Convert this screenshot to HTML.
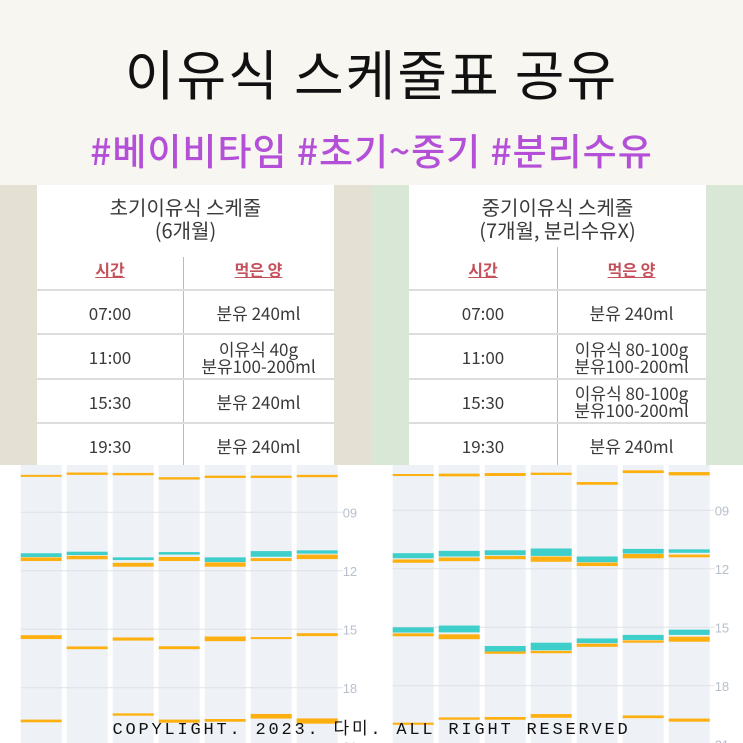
<!DOCTYPE html>
<html><head><meta charset="utf-8">
<style>
*{margin:0;padding:0;box-sizing:border-box}
body{width:743px;height:743px;overflow:hidden;position:relative;background:#fff;font-family:"Liberation Sans","Noto Sans CJK KR",sans-serif}
.abs{position:absolute}
#top{left:0;top:0;width:743px;height:185px;background:#f8f6f0}
#title{left:0;top:32px;width:743px;text-align:center;font-size:54px;color:#111;font-family:"Noto Sans CJK KR",sans-serif;letter-spacing:2px}
#tags{left:0;top:122px;width:743px;text-align:center;font-size:37px;color:#b450d8;font-family:"Noto Sans CJK KR",sans-serif;font-weight:500;letter-spacing:1px}
.panel{top:185px;height:280px;background:#fff;width:297px;color:#3a3a3a;font-family:"Noto Sans CJK KR",sans-serif}
.ptitle{position:absolute;left:0;width:100%;text-align:center;font-size:20px;line-height:23px;top:10px}
.hdr{position:absolute;top:72px;font-size:16px;font-weight:bold;color:#c4505a;text-decoration:underline;text-align:center}
.vline{position:absolute;width:1px;background:#bbb;top:72px;bottom:0}
.hline{position:absolute;left:0;width:100%;height:2px;background:#ddd}
.cell{position:absolute;font-size:17px;text-align:center;line-height:17px;display:flex;align-items:center;justify-content:center}
#copy{left:0;top:714px;width:743px;text-align:center;font-family:"Liberation Mono",monospace;font-size:17px;letter-spacing:2.8px;color:#111}
</style></head><body>
<div id="top" class="abs"></div>
<div id="title" class="abs">이유식 스케줄표 공유</div>
<div id="tags" class="abs">#베이비타임 #초기~중기 #분리수유</div>
<div class="abs" style="left:0;top:185px;width:372px;height:280px;background:#e4e1d4"></div>
<div class="abs" style="left:372px;top:185px;width:371px;height:280px;background:#d8e7d6"></div>

<div class="abs panel" style="left:37px">
 <div class="ptitle">초기이유식 스케줄<br>(6개월)</div>
 <div class="hdr" style="left:0;width:146px">시간</div>
 <div class="hdr" style="left:146px;width:151px">먹은 양</div>
 <div class="vline" style="left:146px"></div>
 <div class="hline" style="top:104px"></div><div class="hline" style="top:148px"></div><div class="hline" style="top:193px"></div><div class="hline" style="top:237px"></div>
 <div class="cell" style="left:0;width:146px;top:106px;height:42px">07:00</div><div class="cell" style="left:146px;width:151px;top:106px;height:42px">분유 240ml</div>
 <div class="cell" style="left:0;width:146px;top:150px;height:43px">11:00</div><div class="cell" style="left:146px;width:151px;top:150px;height:43px">이유식 40g<br>분유100-200ml</div>
 <div class="cell" style="left:0;width:146px;top:195px;height:42px">15:30</div><div class="cell" style="left:146px;width:151px;top:195px;height:42px">분유 240ml</div>
 <div class="cell" style="left:0;width:146px;top:239px;height:42px">19:30</div><div class="cell" style="left:146px;width:151px;top:239px;height:42px">분유 240ml</div>
</div>

<div class="abs panel" style="left:409px">
 <div class="ptitle">중기이유식 스케줄<br>(7개월, 분리수유X)</div>
 <div class="hdr" style="left:0;width:148px">시간</div>
 <div class="hdr" style="left:148px;width:149px">먹은 양</div>
 <div class="vline" style="left:148px;top:62px"></div>
 <div class="hline" style="top:104px"></div><div class="hline" style="top:148px"></div><div class="hline" style="top:193px"></div><div class="hline" style="top:237px"></div>
 <div class="cell" style="left:0;width:148px;top:106px;height:42px">07:00</div><div class="cell" style="left:148px;width:149px;top:106px;height:42px">분유 240ml</div>
 <div class="cell" style="left:0;width:148px;top:150px;height:43px">11:00</div><div class="cell" style="left:148px;width:149px;top:150px;height:43px">이유식 80-100g<br>분유100-200ml</div>
 <div class="cell" style="left:0;width:148px;top:195px;height:42px">15:30</div><div class="cell" style="left:148px;width:149px;top:195px;height:42px">이유식 80-100g<br>분유100-200ml</div>
 <div class="cell" style="left:0;width:148px;top:239px;height:42px">19:30</div><div class="cell" style="left:148px;width:149px;top:239px;height:42px">분유 240ml</div>
</div>

<svg class="abs" style="left:0;top:465px" width="743" height="278" id="charts"></svg>
<div id="copy" class="abs">COPYLIGHT. 2023. 다미. ALL RIGHT RESERVED</div>

<script>
const hourTicks = ["09","12","15","18","21"];
const tickHours = [9,12,15,18,21];
// early chart: [start, end] hours per day
const earlyFormula = [
 [[7.08,7.16],[11.31,11.5],[15.3,15.5],[19.63,19.77]],
 [[6.96,7.08],[11.23,11.41],[15.88,16.02]],
 [[6.98,7.1],[11.59,11.79],[15.42,15.58],[19.31,19.43]],
 [[7.2,7.32],[11.29,11.5],[15.87,16.02],[19.63,19.79]],
 [[7.12,7.24],[11.57,11.79],[15.37,15.61],[19.6,19.74]],
 [[7.12,7.24],[11.35,11.5],[15.4,15.5],[19.34,19.58]],
 [[7.08,7.2],[11.17,11.4],[15.2,15.35],[19.57,19.84]]
];
const earlySolid = [
 [[11.1,11.29]],[[11.02,11.19]],[[11.31,11.45]],[[11.04,11.17]],[[11.31,11.55]],[[10.99,11.28]],[[10.95,11.12]]
];
const midFormula = [
 [[7.14,7.24],[11.52,11.69],[15.31,15.46],[19.89,20.0]],
 [[7.12,7.26],[11.42,11.61],[15.36,15.61],[19.62,19.74]],
 [[7.09,7.24],[11.34,11.51],[16.24,16.36],[19.6,19.74]],
 [[7.07,7.19],[11.37,11.64],[16.21,16.33],[19.45,19.64]],
 [[7.55,7.69],[11.68,11.86],[15.84,16.0]],
 [[6.95,7.09],[11.24,11.46],[15.67,15.79],[19.52,19.66]],
 [[7.04,7.21],[11.27,11.41],[15.48,15.74],[19.68,19.84]]
];
const midSolid = [
 [[11.2,11.46],[15.0,15.27]],
 [[11.08,11.37],[14.91,15.26]],
 [[11.05,11.3],[15.96,16.24]],
 [[10.96,11.34],[15.79,16.18]],
 [[11.37,11.66],[15.57,15.81]],
 [[10.98,11.22],[15.39,15.65]],
 [[11.0,11.18],[15.12,15.39]]
];
const NS="http://www.w3.org/2000/svg";
const svg=document.getElementById('charts');
function mk(tag,attrs){const e=document.createElementNS(NS,tag);for(const k in attrs)e.setAttribute(k,attrs[k]);svg.appendChild(e);return e;}
function drawChart(x0,y9,formula,solid,name){
 const yScale=h=>y9+(h-9)*19.5-465;
 const xCol=i=>x0+i*46;
 for(let i=0;i<formula.length;i++){
  const c=mk('rect',{x:xCol(i),y:0,width:41,height:278,fill:'#eef2f6'});
  
  
 }
 tickHours.forEach((h,k)=>{
  const g=mk('line',{x1:x0,x2:x0+7*46,y1:yScale(h),y2:yScale(h),stroke:'#dde2e8','stroke-width':1});
  
  
  const t=mk('text',{x:x0+322,y:yScale(h)+5,fill:'#b8c0cc','font-size':13,'font-family':'Liberation Sans, sans-serif'});
  t.textContent=hourTicks[k];
  
  
 });
 function bars(arr,color,label){
  arr.forEach((day,i)=>day.forEach(([s,e])=>{
   const r=mk('rect',{x:xCol(i),y:yScale(s),width:41,height:Math.max(2,yScale(e)-yScale(s)),fill:color});
   
   
  }));
 }
 bars(solid,'#3ecfca','solid-food-bar');
 bars(formula,'#fdb010','formula-bar');
}
drawChart(20.7,512.3,earlyFormula,earlySolid,'early');
drawChart(392.7,510.3,midFormula,midSolid,'mid');
</script>
</body></html>
